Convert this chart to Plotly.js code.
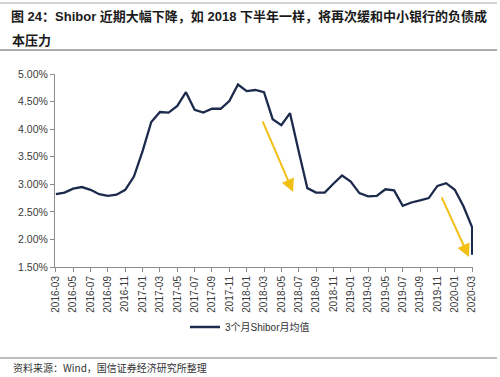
<!DOCTYPE html>
<html>
<head>
<meta charset="utf-8">
<script src="https://cdn.plot.ly/plotly-3.0.1.min.js"></script>
<style>
  html, body { margin: 0; padding: 0; background: #ffffff; }
  #chart { width: 500px; height: 377px; }
</style>
</head>
<body>
<div id="chart"></div>
<script>
// 3-month Shibor, monthly averages (%). March 2020 carries two readings:
// the month-to-date average and the latest fixing, drawn at the same month.
const months = [
  '2016-03','2016-04','2016-05','2016-06','2016-07','2016-08','2016-09','2016-10','2016-11','2016-12',
  '2017-01','2017-02','2017-03','2017-04','2017-05','2017-06','2017-07','2017-08','2017-09','2017-10','2017-11','2017-12',
  '2018-01','2018-02','2018-03','2018-04','2018-05','2018-06','2018-07','2018-08','2018-09','2018-10','2018-11','2018-12',
  '2019-01','2019-02','2019-03','2019-04','2019-05','2019-06','2019-07','2019-08','2019-09','2019-10','2019-11','2019-12',
  '2020-01','2020-02','2020-03','2020-03'
];
const shibor3m = [
  2.82, 2.85, 2.92, 2.95, 2.90, 2.82, 2.79, 2.81, 2.90, 3.14,
  3.60, 4.13, 4.31, 4.30, 4.42, 4.67, 4.35, 4.30, 4.37, 4.37, 4.51, 4.81,
  4.69, 4.71, 4.67, 4.18, 4.07, 4.29, 3.60, 2.93, 2.85, 2.85, 3.01, 3.16,
  3.05, 2.84, 2.78, 2.79, 2.91, 2.89, 2.61, 2.67, 2.71, 2.75, 2.97, 3.02,
  2.90, 2.60, 2.22, 1.72
];
const tickLabels = [
  '2016-03','2016-05','2016-07','2016-09','2016-11',
  '2017-01','2017-03','2017-05','2017-07','2017-09','2017-11',
  '2018-01','2018-03','2018-05','2018-07','2018-09','2018-11',
  '2019-01','2019-03','2019-05','2019-07','2019-09','2019-11',
  '2020-01','2020-03'
];
const yTicks = [1.5, 2.0, 2.5, 3.0, 3.5, 4.0, 4.5, 5.0];
const yTickText = ['1.50%','2.00%','2.50%','3.00%','3.50%','4.00%','4.50%','5.00%'];
const seriesName = '3个月Shibor月均值';
const titleLine1 = '图 24：Shibor 近期大幅下降，如 2018 下半年一样，将再次缓和中小银行的负债成';
const titleLine2 = '本压力';
const sourceNote = '资料来源：Wind，国信证券经济研究所整理';

// Plot box in pixels, used to place header/footer items in paper units
const L = 55, R = 27, T = 74, B = 110;
const PW = 500 - L - R, PH = 377 - T - B;
const px = p => (p - L) / PW;
const py = p => (T + PH - p) / PH;

const FONT = 'Liberation Sans, Arial, Noto Sans CJK SC, sans-serif';
const GOLD = '#F2BF14';
const AXIS = '#8c8c8c';

const trace = {
  type: 'scatter',
  mode: 'lines',
  x: months,
  y: shibor3m,
  name: seriesName,
  line: { color: '#1c2a4c', width: 2.3 },
  hoverinfo: 'x+y'
};

function hline(yPix, color, width) {
  return {
    type: 'line', xref: 'paper', yref: 'paper',
    x0: px(0), x1: px(497), y0: py(yPix), y1: py(yPix),
    line: { color: color, width: width }
  };
}

function arrow(tailX, tailY, headX, headY) {
  return {
    xref: 'x', yref: 'y', axref: 'x', ayref: 'y',
    x: headX, y: headY, ax: tailX, ay: tailY,
    text: '', showarrow: true,
    arrowhead: 2, arrowsize: 1.3, arrowwidth: 2, arrowcolor: GOLD, standoff: 0
  };
}

const layout = {
  width: 500, height: 377,
  paper_bgcolor: '#ffffff', plot_bgcolor: '#ffffff',
  margin: { l: L, r: R, t: T, b: B, pad: 0 },
  showlegend: true,
  title: {
    text: titleLine1,
    xref: 'container', yref: 'container',
    x: 11 / 500, xanchor: 'left',
    y: 1 - 16 / 377, yanchor: 'middle',
    font: { family: FONT, size: 13, color: '#1a1a1a', weight: 'bold' }
  },
  xaxis: {
    type: 'category',
    categoryorder: 'array',
    categoryarray: months,
    range: [-0.1, 48.1],
    tickmode: 'array',
    tickvals: tickLabels,
    ticktext: tickLabels,
    tickangle: -90,
    ticks: 'outside', ticklen: 4, tickcolor: AXIS, tickwidth: 1,
    showline: true, linecolor: AXIS, linewidth: 1,
    showgrid: false, zeroline: false,
    tickfont: { family: FONT, size: 10, color: '#3a3a3a' },
    fixedrange: true
  },
  yaxis: {
    range: [1.5, 5.0],
    tickmode: 'array',
    tickvals: yTicks,
    ticktext: yTickText,
    ticks: 'outside', ticklen: 4, tickcolor: AXIS, tickwidth: 1,
    showline: true, linecolor: AXIS, linewidth: 1,
    showgrid: false, zeroline: false,
    tickfont: { family: FONT, size: 10.5, color: '#3a3a3a' },
    fixedrange: true
  },
  legend: {
    orientation: 'h',
    x: px(250), xanchor: 'center',
    y: py(327), yanchor: 'middle',
    font: { family: FONT, size: 10, color: '#333333' },
    bgcolor: 'rgba(0,0,0,0)'
  },
  shapes: [
    hline(3, '#a8a8a8', 1),
    hline(50, '#5a5a5a', 1.2),
    hline(358, '#7a7a7a', 1)
  ],
  annotations: [
    {
      xref: 'paper', yref: 'paper', x: px(10), y: py(40),
      xanchor: 'left', yanchor: 'middle', showarrow: false,
      text: titleLine2,
      font: { family: FONT, size: 13, color: '#1a1a1a', weight: 'bold' }
    },
    {
      xref: 'paper', yref: 'paper', x: px(11), y: py(367),
      xanchor: 'left', yanchor: 'middle', showarrow: false,
      text: sourceNote,
      font: { family: 'Noto Sans CJK SC, Liberation Sans, sans-serif', size: 10, color: '#333333' }
    },
    arrow(23.77, 4.17, 27.35, 2.86),
    arrow(44.41, 2.79, 47.64, 1.68)
  ]
};

Plotly.newPlot('chart', [trace], layout, { displayModeBar: false, staticPlot: true });
</script>
</body>
</html>
